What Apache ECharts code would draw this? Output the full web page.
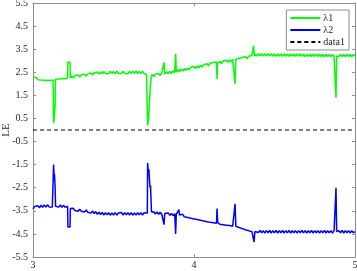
<!DOCTYPE html>
<html><head><meta charset="utf-8">
<script src="https://cdn.jsdelivr.net/npm/echarts@6/dist/echarts.min.js"></script>
<style>html,body{margin:0;padding:0;background:#fff}#c{width:357px;height:271px}</style>
</head><body><div id="c"></div>
<script>
const xTicks = [3, 4, 5];
const yTicks = [-5.5, -4.5, -3.5, -2.5, -1.5, -0.5, 0.5, 1.5, 2.5, 3.5, 4.5, 5.5];
const seriesNames = ['λ1', 'λ2', 'data1'];

const lambda1 = [
 [3.00,2.28],[3.01,2.2],[3.02,2.27],[3.03,2.18],[3.04,2.26],[3.05,2.16],[3.06,2.24],[3.07,2.15],[3.08,2.23],[3.09,2.14],[3.10,2.22],[3.11,2.15],[3.12,2.23],
 [3.125,2.15],[3.128,0.3],[3.133,0.6],[3.137,1.0],[3.14,2.2],[3.15,2.12],[3.16,2.21],[3.17,2.13],[3.18,2.23],[3.19,2.15],[3.20,2.22],[3.21,2.16],
 [3.215,2.25],[3.217,2.95],[3.23,2.92],[3.232,2.25],[3.24,2.34],[3.25,2.25],[3.26,2.35],[3.27,2.27],[3.28,2.38],[3.29,2.29],[3.30,2.39],[3.31,2.31],[3.32,2.42],
 [3.33,2.33],[3.34,2.43],[3.35,2.36],[3.36,2.47],[3.37,2.38],[3.38,2.48],[3.39,2.4],[3.40,2.51],[3.41,2.42],[3.42,2.52],[3.43,2.43],[3.44,2.54],[3.45,2.45],
 [3.46,2.53],[3.47,2.44],[3.48,2.55],[3.49,2.45],[3.50,2.54],[3.51,2.44],[3.52,2.55],[3.53,2.46],[3.54,2.54],[3.55,2.44],[3.56,2.55],[3.57,2.45],[3.58,2.53],
 [3.59,2.44],[3.60,2.54],[3.61,2.45],[3.62,2.55],[3.63,2.46],[3.64,2.56],[3.65,2.45],[3.66,2.54],[3.67,2.44],[3.68,2.55],[3.69,2.45],[3.70,2.5],
 [3.705,2.4],[3.712,0.2],[3.718,0.5],[3.725,1.4],[3.73,2.0],[3.735,2.3],[3.74,2.4],[3.75,2.31],[3.76,2.42],[3.77,2.34],[3.78,2.45],[3.79,2.36],[3.80,2.47],
 [3.81,2.39],[3.814,2.93],[3.818,2.42],[3.83,2.52],[3.84,2.43],[3.85,2.54],[3.86,2.45],[3.87,2.57],[3.88,2.48],[3.886,3.3],[3.89,2.5],[3.90,2.62],[3.91,2.53],
 [3.92,2.64],[3.93,2.55],[3.94,2.67],[3.95,2.58],[3.96,2.69],[3.97,2.6],[3.98,2.72],[3.99,2.64],[4.00,2.75],[4.01,2.66],[4.02,2.78],[4.03,2.69],[4.04,2.81],
 [4.05,2.72],[4.06,2.83],[4.07,2.75],[4.08,2.87],[4.09,2.78],[4.10,2.89],[4.11,2.81],[4.12,2.92],[4.13,2.84],[4.14,2.94],[4.143,2.2],[4.147,2.9],[4.16,2.97],
 [4.17,2.88],[4.18,2.99],[4.19,2.91],[4.20,3.02],[4.21,2.93],[4.22,3.04],[4.23,2.95],[4.24,3.06],[4.25,2.98],[4.255,2.0],[4.26,3.07],[4.27,3.0],[4.28,3.11],
 [4.29,3.03],[4.30,3.14],[4.31,3.06],[4.32,3.18],[4.33,3.09],[4.34,3.2],[4.35,3.12],[4.36,3.23],[4.37,3.65],[4.375,3.2],[4.38,3.29],[4.39,3.2],[4.40,3.3],
 [4.41,3.21],[4.42,3.31],[4.43,3.21],[4.44,3.3],[4.45,3.2],[4.46,3.31],[4.47,3.21],[4.48,3.3],[4.49,3.2],[4.50,3.29],[4.51,3.19],[4.52,3.3],[4.53,3.2],
 [4.54,3.29],[4.55,3.19],[4.56,3.3],[4.57,3.2],[4.58,3.29],[4.59,3.19],[4.60,3.29],[4.61,3.2],[4.62,3.3],[4.63,3.19],[4.64,3.29],[4.65,3.2],[4.66,3.3],
 [4.67,3.19],[4.68,3.28],[4.69,3.18],[4.70,3.29],[4.71,3.19],[4.72,3.28],[4.73,3.18],[4.74,3.29],[4.75,3.19],[4.76,3.28],[4.77,3.18],[4.78,3.28],[4.79,3.18],
 [4.80,3.27],[4.81,3.17],[4.82,3.28],[4.83,3.18],[4.84,3.27],[4.85,3.17],[4.86,3.27],[4.87,3.18],[4.88,3.26],[4.882,1.4],[4.886,3.2],[4.89,3.27],[4.90,3.18],
 [4.91,3.28],[4.92,3.18],[4.93,3.27],[4.94,3.17],[4.95,3.28],[4.96,3.18],[4.97,3.27],[4.98,3.17],[4.99,3.27],[5.00,3.21]
];

const lambda2 = [
 [3.00,-3.42],[3.01,-3.31],[3.02,-3.39],[3.03,-3.28],[3.04,-3.37],[3.05,-3.26],[3.06,-3.35],[3.07,-3.25],[3.08,-3.34],[3.09,-3.24],[3.10,-3.33],[3.11,-3.25],[3.12,-3.34],
 [3.126,-3.3],[3.128,-1.5],[3.131,-2.0],[3.133,-1.9],[3.137,-2.4],[3.14,-3.3],[3.15,-3.24],[3.16,-3.34],[3.17,-3.25],[3.18,-3.35],[3.19,-3.26],[3.20,-3.35],[3.21,-3.27],
 [3.215,-3.3],[3.217,-4.2],[3.23,-4.2],[3.232,-3.4],[3.24,-3.48],[3.25,-3.39],[3.26,-3.49],[3.27,-3.41],[3.28,-3.52],[3.29,-3.43],[3.30,-3.52],[3.31,-3.44],[3.32,-3.55],
 [3.33,-3.46],[3.34,-3.56],[3.35,-3.48],[3.36,-3.6],[3.37,-3.51],[3.38,-3.62],[3.39,-3.53],[3.40,-3.65],[3.41,-3.56],[3.42,-3.66],[3.43,-3.57],[3.44,-3.68],[3.45,-3.58],
 [3.46,-3.67],[3.47,-3.58],[3.48,-3.69],[3.49,-3.59],[3.50,-3.68],[3.51,-3.58],[3.52,-3.69],[3.53,-3.59],[3.54,-3.67],[3.55,-3.57],[3.56,-3.68],[3.57,-3.58],[3.58,-3.67],
 [3.59,-3.58],[3.60,-3.68],[3.61,-3.58],[3.62,-3.69],[3.63,-3.59],[3.64,-3.68],[3.65,-3.58],[3.66,-3.67],[3.67,-3.58],[3.68,-3.68],[3.69,-3.58],[3.70,-3.64],
 [3.71,-3.6],[3.712,-1.43],[3.716,-1.8],[3.72,-1.7],[3.723,-2.1],[3.727,-2.5],[3.73,-2.4],[3.733,-3.0],[3.736,-3.55],[3.74,-3.62],[3.75,-3.54],[3.76,-3.64],[3.77,-3.55],
 [3.78,-3.65],[3.79,-3.56],[3.80,-3.66],[3.81,-3.58],[3.814,-4.1],[3.818,-3.62],[3.83,-3.68],[3.84,-3.59],[3.85,-3.7],[3.86,-3.61],[3.87,-3.71],[3.88,-3.62],
 [3.886,-4.5],[3.89,-3.65],[3.90,-3.58],[3.906,-3.45],[3.91,-3.68],[3.92,-3.73],[3.93,-3.65],[3.94,-3.76],[3.95,-3.68],[3.96,-3.79],[3.97,-3.71],[3.98,-3.82],
 [3.99,-3.74],[4.00,-3.85],[4.01,-3.77],[4.02,-3.88],[4.03,-3.8],[4.04,-3.91],[4.05,-3.83],[4.06,-3.94],[4.07,-3.86],[4.08,-3.97],[4.09,-3.89],[4.10,-4.0],
 [4.11,-3.92],[4.12,-4.02],[4.13,-3.94],[4.14,-4.04],[4.143,-3.4],[4.147,-4.0],[4.16,-4.08],[4.17,-4.0],[4.18,-4.1],[4.19,-4.02],[4.20,-4.12],[4.21,-4.04],
 [4.22,-4.14],[4.23,-4.06],[4.24,-4.17],[4.25,-4.09],[4.255,-3.2],[4.26,-4.17],[4.27,-4.1],[4.28,-4.22],[4.29,-4.14],[4.30,-4.27],[4.31,-4.19],[4.32,-4.32],
 [4.33,-4.24],[4.34,-4.36],[4.35,-4.28],[4.36,-4.4],[4.37,-4.32],[4.373,-4.85],[4.378,-4.4],[4.39,-4.34],[4.40,-4.44],[4.41,-4.35],[4.42,-4.45],[4.43,-4.36],
 [4.44,-4.46],[4.45,-4.36],[4.46,-4.45],[4.47,-4.35],[4.48,-4.46],[4.49,-4.36],[4.50,-4.45],[4.51,-4.35],[4.52,-4.46],[4.53,-4.36],[4.54,-4.45],[4.55,-4.35],
 [4.56,-4.46],[4.57,-4.36],[4.58,-4.45],[4.59,-4.35],[4.60,-4.46],[4.61,-4.36],[4.62,-4.45],[4.63,-4.36],[4.64,-4.46],[4.65,-4.36],[4.66,-4.45],[4.67,-4.35],
 [4.68,-4.45],[4.69,-4.36],[4.70,-4.46],[4.71,-4.36],[4.72,-4.45],[4.73,-4.35],[4.74,-4.46],[4.75,-4.36],[4.76,-4.45],[4.77,-4.36],[4.78,-4.46],[4.79,-4.36],
 [4.80,-4.45],[4.81,-4.35],[4.82,-4.46],[4.83,-4.36],[4.84,-4.45],[4.85,-4.36],[4.86,-4.46],[4.87,-4.36],[4.88,-4.44],[4.882,-2.5],[4.886,-4.4],[4.89,-4.46],
 [4.90,-4.36],[4.91,-4.45],[4.92,-4.35],[4.93,-4.46],[4.94,-4.36],[4.95,-4.45],[4.96,-4.36],[4.97,-4.46],[4.98,-4.36],[4.99,-4.45],[5.00,-4.4]
];

const data1 = [[3, 0], [5, 0]];

const axisGray = '#8c8c8c';
const textColor = '#262626';
const font = 'Liberation Serif';

const chart = echarts.init(document.getElementById('c'), null, {renderer: 'canvas'});
const xBase = {
  type: 'value', min: 3, max: 5, interval: 1,
  axisLine: {show: true, onZero: false, lineStyle: {color: axisGray, width: 1}},
  axisTick: {show: true, inside: true, length: 3, lineStyle: {color: axisGray}},
  splitLine: {show: false}
};
const yBase = {
  type: 'value', min: -5.5, max: 5.5,
  axisLine: {show: true, onZero: false, lineStyle: {color: axisGray, width: 1}},
  axisTick: {show: true, inside: true, length: 3, customValues: yTicks, lineStyle: {color: axisGray}},
  splitLine: {show: false}
};
chart.setOption({
  animation: false,
  backgroundColor: '#fff',
  grid: {left: 33, right: 2, top: 3, bottom: 14, containLabel: false, outerBoundsMode: 'none'},
  legend: {
    orient: 'vertical', right: 8, top: 10,
    data: seriesNames,
    backgroundColor: '#fff', borderColor: axisGray, borderWidth: 1, borderRadius: 0,
    padding: [3, 4, 3, 3], itemGap: 2, itemWidth: 30, itemHeight: 9,
    itemStyle: {opacity: 0},
    textStyle: {fontFamily: font, fontSize: 10, color: textColor, padding: [0, 0, 0, -2]}
  },
  xAxis: [
    Object.assign({}, xBase, {position: 'bottom',
      axisLabel: {show: true, margin: 3, fontFamily: font, fontSize: 10, color: textColor, showMaxLabel: true}}),
    Object.assign({}, xBase, {position: 'top', axisLabel: {show: false}})
  ],
  yAxis: [
    Object.assign({}, yBase, {position: 'left',
      name: 'LE', nameLocation: 'middle', nameGap: 21, nameMoveOverlap: false,
      nameTextStyle: {fontFamily: font, fontSize: 11, color: textColor},
      axisLabel: {show: true, margin: 5, customValues: yTicks, fontFamily: font, fontSize: 10, color: textColor,
        formatter: v => v.toFixed(1)}}),
    Object.assign({}, yBase, {position: 'right', axisLabel: {show: false}})
  ],
  series: [
    {name: seriesNames[0], type: 'line', data: lambda1, symbol: 'none', xAxisIndex: 0, yAxisIndex: 0,
     lineStyle: {color: '#00ff00', width: 1.5}, itemStyle: {color: '#00ff00'}},
    {name: seriesNames[1], type: 'line', data: lambda2, symbol: 'none', xAxisIndex: 0, yAxisIndex: 0,
     lineStyle: {color: '#0000ff', width: 1.5}, itemStyle: {color: '#0000ff'}},
    {name: seriesNames[2], type: 'line', data: data1, symbol: 'none', xAxisIndex: 0, yAxisIndex: 0,
     lineStyle: {color: '#000', width: 1, type: [4, 3]}, itemStyle: {color: '#000'}}
  ]
});
</script></body></html>
